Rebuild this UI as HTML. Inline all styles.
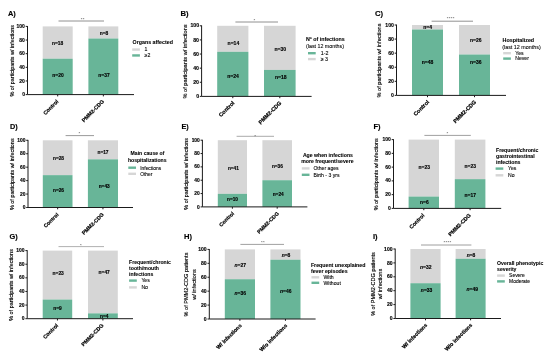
<!DOCTYPE html>
<html lang="en">
<head>
<meta charset="utf-8">
<title>Figure: infections in PMM2-CDG</title>
<style>
html,body{margin:0;padding:0;background:#fff;overflow:hidden;}
svg{display:block;}
text{font-family:"Liberation Sans",Arial,sans-serif;fill:#000;}
.pl,.n,.yt{stroke:#000;stroke-width:0.14;}
.xt{stroke:#000;stroke-width:0.2;}
.pl{font-weight:bold;}
.n{font-weight:bold;text-anchor:middle;}
.it{font-style:italic;}
.yt{font-weight:bold;text-anchor:end;}
.xt{font-weight:bold;text-anchor:end;}
.ytl{stroke:#000;stroke-width:0.15;text-anchor:middle;}
.st{font-size:4.4px;text-anchor:middle;fill:#333;letter-spacing:0.3px;}
.lt{stroke:#000;stroke-width:0.08;}
.li{stroke:#000;stroke-width:0.1;}
.ax{stroke:#1a1a1a;stroke-width:1.0;fill:none;}
.sg{stroke:#858585;stroke-width:0.9;fill:none;}
</style>
</head>
<body>
<svg width="550" height="356" viewBox="0 0 550 356">
<rect width="550" height="356" fill="#fff"/>
<g>
<text x="8.0" y="15.9" font-size="7.43" class="pl">A)</text>
<rect x="42.7" y="26.4" width="30.00" height="32.31" fill="#d6d6d6"/>
<rect x="42.7" y="58.71" width="30.00" height="35.89" fill="#68b598"/>
<text x="58.00" y="76.75" font-size="4.89" class="n"><tspan>n</tspan>=20</text>
<text x="57.60" y="44.75" font-size="4.89" class="n"><tspan>n</tspan>=18</text>
<rect x="88.4" y="26.4" width="29.90" height="12.12" fill="#d6d6d6"/>
<rect x="88.4" y="38.52" width="29.90" height="56.08" fill="#68b598"/>
<text x="104.00" y="77.35" font-size="4.89" class="n"><tspan>n</tspan>=37</text>
<text x="104.00" y="34.75" font-size="4.89" class="n"><tspan>n</tspan>=8</text>
<path d="M27.5 26.0V94.6H134" class="ax"/>
<path d="M25.70 94.60H27.5" class="ax"/>
<text x="24.90" y="96.20" font-size="4.99" class="yt">0</text>
<path d="M25.70 80.96H27.5" class="ax"/>
<text x="24.90" y="82.56" font-size="4.99" class="yt">20</text>
<path d="M25.70 67.32H27.5" class="ax"/>
<text x="24.90" y="68.92" font-size="4.99" class="yt">40</text>
<path d="M25.70 53.68H27.5" class="ax"/>
<text x="24.90" y="55.28" font-size="4.99" class="yt">60</text>
<path d="M25.70 40.04H27.5" class="ax"/>
<text x="24.90" y="41.64" font-size="4.99" class="yt">80</text>
<path d="M25.70 26.40H27.5" class="ax"/>
<text x="24.90" y="28.00" font-size="4.99" class="yt">100</text>
<path d="M57.70 94.6V96.40" class="ax"/>
<text transform="translate(58.80 101.90) rotate(-45)" font-size="5.33" class="xt">Control</text>
<path d="M103.35 94.6V96.40" class="ax"/>
<text transform="translate(104.45 101.90) rotate(-45)" font-size="5.33" class="xt">PMM2-CDG</text>
<text transform="translate(13.50 60.80) rotate(-90)" font-size="5.45" class="ytl">% of participants w/ infections</text>
<path d="M58.5 21.0H104" stroke="#858585" stroke-width="0.9" fill="none"/>
<text x="82.65" y="20.97" class="st">**</text>
<text x="132.6" y="43.80" text-anchor="start" font-weight="bold" font-size="5.3" class="lt">Organs affected</text>
<rect x="132.2" y="48.35" width="7.7" height="2.4" fill="#d6d6d6"/>
<text x="144.6" y="51.40" font-size="5.2" class="li">1</text>
<rect x="132.2" y="54.25" width="7.7" height="2.4" fill="#68b598"/>
<text x="144.6" y="57.30" font-size="5.2" class="li">≥2</text>
</g>
<g>
<text x="180.5" y="15.6" font-size="7.69" class="pl">B)</text>
<rect x="217.2" y="25.8" width="31.20" height="26.01" fill="#d6d6d6"/>
<rect x="217.2" y="51.81" width="31.20" height="44.59" fill="#68b598"/>
<text x="233.00" y="77.75" font-size="5.06" class="n"><tspan>n</tspan>=24</text>
<text x="233.40" y="44.75" font-size="5.06" class="n"><tspan>n</tspan>=14</text>
<rect x="264" y="25.8" width="31.60" height="44.13" fill="#d6d6d6"/>
<rect x="264" y="69.93" width="31.60" height="26.47" fill="#68b598"/>
<text x="280.80" y="78.75" font-size="5.06" class="n"><tspan>n</tspan>=18</text>
<text x="280.30" y="50.75" font-size="5.06" class="n"><tspan>n</tspan>=30</text>
<path d="M201.6 25.400000000000002V96.4H311.6" class="ax"/>
<path d="M199.80 96.40H201.6" class="ax"/>
<text x="199.00" y="98.00" font-size="5.16" class="yt">0</text>
<path d="M199.80 82.28H201.6" class="ax"/>
<text x="199.00" y="83.88" font-size="5.16" class="yt">20</text>
<path d="M199.80 68.16H201.6" class="ax"/>
<text x="199.00" y="69.76" font-size="5.16" class="yt">40</text>
<path d="M199.80 54.04H201.6" class="ax"/>
<text x="199.00" y="55.64" font-size="5.16" class="yt">60</text>
<path d="M199.80 39.92H201.6" class="ax"/>
<text x="199.00" y="41.52" font-size="5.16" class="yt">80</text>
<path d="M199.80 25.80H201.6" class="ax"/>
<text x="199.00" y="27.40" font-size="5.16" class="yt">100</text>
<path d="M232.80 96.4V98.20" class="ax"/>
<text transform="translate(234.90 103.40) rotate(-45)" font-size="5.52" class="xt">Control</text>
<path d="M279.80 96.4V98.20" class="ax"/>
<text transform="translate(281.90 103.40) rotate(-45)" font-size="5.52" class="xt">PMM2-CDG</text>
<text transform="translate(187.00 61.40) rotate(-90)" font-size="5.63" class="ytl">% of participants w/ infections</text>
<path d="M235.4 22H278" stroke="#858585" stroke-width="0.9" fill="none"/>
<text x="254.60" y="21.57" class="st">*</text>
<text x="306" y="41.20" text-anchor="start" font-weight="bold" font-size="5.3" class="lt">Nº of infections</text>
<text x="306" y="47.80" text-anchor="start" font-weight="normal" font-size="5.3" class="lt">(last 12 months)</text>
<rect x="308" y="52.00" width="7.7" height="2.4" fill="#68b598"/>
<text x="320.7" y="55.05" font-size="5.3" class="li">1-2</text>
<rect x="308" y="57.90" width="7.7" height="2.4" fill="#d6d6d6"/>
<text x="320.7" y="60.95" font-size="5.3" class="li">≥ 3</text>
</g>
<g>
<text x="375" y="15.5" font-size="7.67" class="pl">C)</text>
<rect x="412" y="25" width="31.00" height="4.51" fill="#d6d6d6"/>
<rect x="412" y="29.51" width="31.00" height="65.89" fill="#68b598"/>
<text x="427.60" y="64.15" font-size="5.04" class="n"><tspan>n</tspan>=48</text>
<text x="427.70" y="29.05" font-size="5.04" class="n"><tspan>n</tspan>=4</text>
<rect x="459" y="25" width="31.00" height="29.52" fill="#d6d6d6"/>
<rect x="459" y="54.52" width="31.00" height="40.88" fill="#68b598"/>
<text x="475.80" y="64.35" font-size="5.04" class="n"><tspan>n</tspan>=36</text>
<text x="475.80" y="41.75" font-size="5.04" class="n"><tspan>n</tspan>=26</text>
<path d="M396.5 24.6V95.4H506" class="ax"/>
<path d="M394.70 95.40H396.5" class="ax"/>
<text x="393.90" y="97.00" font-size="5.15" class="yt">0</text>
<path d="M394.70 81.32H396.5" class="ax"/>
<text x="393.90" y="82.92" font-size="5.15" class="yt">20</text>
<path d="M394.70 67.24H396.5" class="ax"/>
<text x="393.90" y="68.84" font-size="5.15" class="yt">40</text>
<path d="M394.70 53.16H396.5" class="ax"/>
<text x="393.90" y="54.76" font-size="5.15" class="yt">60</text>
<path d="M394.70 39.08H396.5" class="ax"/>
<text x="393.90" y="40.68" font-size="5.15" class="yt">80</text>
<path d="M394.70 25.00H396.5" class="ax"/>
<text x="393.90" y="26.60" font-size="5.15" class="yt">100</text>
<path d="M427.50 95.4V97.20" class="ax"/>
<text transform="translate(429.60 102.40) rotate(-45)" font-size="5.51" class="xt">Control</text>
<path d="M474.50 95.4V97.20" class="ax"/>
<text transform="translate(476.60 102.40) rotate(-45)" font-size="5.51" class="xt">PMM2-CDG</text>
<text transform="translate(381.10 60.50) rotate(-90)" font-size="5.61" class="ytl">% of participants w/ infections</text>
<path d="M431.6 21.2H473" stroke="#858585" stroke-width="0.9" fill="none"/>
<text x="450.80" y="20.17" class="st">****</text>
<text x="502.5" y="42.00" text-anchor="start" font-weight="bold" font-size="5.38" class="lt">Hospitalized</text>
<text x="502.2" y="48.50" text-anchor="start" font-weight="normal" font-size="5.38" class="lt">(last 12 months)</text>
<rect x="503.2" y="52.00" width="7.7" height="2.4" fill="#d6d6d6"/>
<text x="515.3" y="55.05" font-size="5.1" class="li">Yes</text>
<rect x="503.2" y="57.40" width="7.7" height="2.4" fill="#68b598"/>
<text x="515.3" y="60.45" font-size="5.1" class="li">Never</text>
</g>
<g>
<text x="10" y="128.6" font-size="7.32" class="pl">D)</text>
<rect x="42.8" y="140.3" width="29.70" height="34.84" fill="#d6d6d6"/>
<rect x="42.8" y="175.14" width="29.70" height="32.36" fill="#68b598"/>
<text x="58.50" y="192.15" font-size="4.81" class="n"><tspan>n</tspan>=26</text>
<text x="58.50" y="159.75" font-size="4.81" class="n"><tspan>n</tspan>=28</text>
<rect x="87.9" y="140.3" width="30.10" height="19.04" fill="#d6d6d6"/>
<rect x="87.9" y="159.34" width="30.10" height="48.16" fill="#68b598"/>
<text x="104.20" y="187.75" font-size="4.81" class="n"><tspan>n</tspan>=43</text>
<text x="103.00" y="153.75" font-size="4.81" class="n"><tspan>n</tspan>=17</text>
<path d="M28.0 139.9V207.5H133" class="ax"/>
<path d="M26.20 207.50H28.0" class="ax"/>
<text x="25.40" y="209.10" font-size="4.91" class="yt">0</text>
<path d="M26.20 194.06H28.0" class="ax"/>
<text x="25.40" y="195.66" font-size="4.91" class="yt">20</text>
<path d="M26.20 180.62H28.0" class="ax"/>
<text x="25.40" y="182.22" font-size="4.91" class="yt">40</text>
<path d="M26.20 167.18H28.0" class="ax"/>
<text x="25.40" y="168.78" font-size="4.91" class="yt">60</text>
<path d="M26.20 153.74H28.0" class="ax"/>
<text x="25.40" y="155.34" font-size="4.91" class="yt">80</text>
<path d="M26.20 140.30H28.0" class="ax"/>
<text x="25.40" y="141.90" font-size="4.91" class="yt">100</text>
<path d="M57.65 207.5V209.30" class="ax"/>
<text transform="translate(58.95 214.90) rotate(-45)" font-size="5.26" class="xt">Control</text>
<path d="M102.95 207.5V209.30" class="ax"/>
<text transform="translate(104.25 214.90) rotate(-45)" font-size="5.26" class="xt">PMM2-CDG</text>
<text transform="translate(13.90 174.20) rotate(-90)" font-size="5.45" class="ytl">% of participants w/ infections</text>
<path d="M65.6 135.6H94" stroke="#808080" stroke-width="0.8" fill="none"/>
<text x="79.40" y="134.97" class="st">*</text>
<text x="147.5" y="155.30" text-anchor="middle" font-weight="bold" font-size="5.12" class="lt">Main cause of</text>
<text x="147.2" y="161.50" text-anchor="middle" font-weight="bold" font-size="5.12" class="lt">hospitalizations</text>
<rect x="128.3" y="166.50" width="7.7" height="2.4" fill="#68b598"/>
<text x="140.2" y="169.55" font-size="4.9" class="li">Infections</text>
<rect x="128.3" y="172.60" width="7.7" height="2.4" fill="#d6d6d6"/>
<text x="140.2" y="175.65" font-size="4.9" class="li">Other</text>
</g>
<g>
<text x="181.5" y="129" font-size="7.26" class="pl">E)</text>
<rect x="217.8" y="140.2" width="29.20" height="53.62" fill="#d6d6d6"/>
<rect x="217.8" y="193.82" width="29.20" height="13.08" fill="#68b598"/>
<text x="232.50" y="200.75" font-size="4.78" class="n"><tspan>n</tspan>=10</text>
<text x="233.40" y="169.75" font-size="4.78" class="n"><tspan>n</tspan>=41</text>
<rect x="262.4" y="140.2" width="29.60" height="40.02" fill="#d6d6d6"/>
<rect x="262.4" y="180.22" width="29.60" height="26.68" fill="#68b598"/>
<text x="278.20" y="196.15" font-size="4.78" class="n"><tspan>n</tspan>=24</text>
<text x="277.40" y="167.75" font-size="4.78" class="n"><tspan>n</tspan>=36</text>
<path d="M202.4 139.79999999999998V206.9H307.4" class="ax"/>
<path d="M200.60 206.90H202.4" class="ax"/>
<text x="199.80" y="208.50" font-size="4.88" class="yt">0</text>
<path d="M200.60 193.56H202.4" class="ax"/>
<text x="199.80" y="195.16" font-size="4.88" class="yt">20</text>
<path d="M200.60 180.22H202.4" class="ax"/>
<text x="199.80" y="181.82" font-size="4.88" class="yt">40</text>
<path d="M200.60 166.88H202.4" class="ax"/>
<text x="199.80" y="168.48" font-size="4.88" class="yt">60</text>
<path d="M200.60 153.54H202.4" class="ax"/>
<text x="199.80" y="155.14" font-size="4.88" class="yt">80</text>
<path d="M200.60 140.20H202.4" class="ax"/>
<text x="199.80" y="141.80" font-size="4.88" class="yt">100</text>
<path d="M232.40 206.9V208.70" class="ax"/>
<text transform="translate(234.50 213.90) rotate(-45)" font-size="5.22" class="xt">Control</text>
<path d="M277.20 206.9V208.70" class="ax"/>
<text transform="translate(279.30 213.90) rotate(-45)" font-size="5.22" class="xt">PMM2-CDG</text>
<text transform="translate(188.20 173.85) rotate(-90)" font-size="5.45" class="ytl">% of participants w/ infections</text>
<path d="M236.6 136.3H274" stroke="#707070" stroke-width="0.6" fill="none"/>
<text x="255.30" y="137.87" class="st">*</text>
<text x="327.9" y="156.80" text-anchor="middle" font-weight="bold" font-size="5.15" class="lt">Age when infections</text>
<text x="327.4" y="162.90" text-anchor="middle" font-weight="bold" font-size="5.15" class="lt">more frequent/severe</text>
<rect x="301.8" y="167.20" width="7.7" height="2.4" fill="#d6d6d6"/>
<text x="313.4" y="170.25" font-size="5.1" class="li">Other ages</text>
<rect x="301.8" y="173.60" width="7.7" height="2.4" fill="#68b598"/>
<text x="313.4" y="176.65" font-size="5.1" class="li">Birth - 3 yrs</text>
</g>
<g>
<text x="373.4" y="129" font-size="7.49" class="pl">F)</text>
<rect x="408.6" y="139.6" width="30.40" height="56.97" fill="#d6d6d6"/>
<rect x="408.6" y="196.57" width="30.40" height="11.83" fill="#68b598"/>
<text x="424.40" y="203.75" font-size="4.93" class="n"><tspan>n</tspan>=6</text>
<text x="424.20" y="168.75" font-size="4.93" class="n"><tspan>n</tspan>=23</text>
<rect x="454.8" y="139.6" width="30.60" height="39.56" fill="#d6d6d6"/>
<rect x="454.8" y="179.16" width="30.60" height="29.24" fill="#68b598"/>
<text x="470.20" y="197.35" font-size="4.93" class="n"><tspan>n</tspan>=17</text>
<text x="470.20" y="167.75" font-size="4.93" class="n"><tspan>n</tspan>=23</text>
<path d="M393.5 139.2V208.4H501.2" class="ax"/>
<path d="M391.70 208.40H393.5" class="ax"/>
<text x="390.90" y="210.00" font-size="5.03" class="yt">0</text>
<path d="M391.70 194.64H393.5" class="ax"/>
<text x="390.90" y="196.24" font-size="5.03" class="yt">20</text>
<path d="M391.70 180.88H393.5" class="ax"/>
<text x="390.90" y="182.48" font-size="5.03" class="yt">40</text>
<path d="M391.70 167.12H393.5" class="ax"/>
<text x="390.90" y="168.72" font-size="5.03" class="yt">60</text>
<path d="M391.70 153.36H393.5" class="ax"/>
<text x="390.90" y="154.96" font-size="5.03" class="yt">80</text>
<path d="M391.70 139.60H393.5" class="ax"/>
<text x="390.90" y="141.20" font-size="5.03" class="yt">100</text>
<path d="M423.80 208.4V210.20" class="ax"/>
<text transform="translate(424.90 215.80) rotate(-45)" font-size="5.38" class="xt">Control</text>
<path d="M470.10 208.4V210.20" class="ax"/>
<text transform="translate(471.20 215.80) rotate(-45)" font-size="5.38" class="xt">PMM2-CDG</text>
<text transform="translate(377.80 174.30) rotate(-90)" font-size="5.48" class="ytl">% of participants w/ infections</text>
<path d="M424.4 135.4H470.8" stroke="#606060" stroke-width="0.6" fill="none"/>
<text x="447.60" y="135.17" class="st">*</text>
<text x="496" y="151.90" text-anchor="start" font-weight="bold" font-size="5.2" class="lt">Frequent/chronic</text>
<text x="496" y="158.10" text-anchor="start" font-weight="bold" font-size="5.2" class="lt">gastrointestinal</text>
<text x="496" y="163.90" text-anchor="start" font-weight="bold" font-size="5.2" class="lt">infections</text>
<rect x="495.6" y="167.40" width="7.7" height="2.4" fill="#68b598"/>
<text x="508" y="170.45" font-size="5.1" class="li">Yes</text>
<rect x="495.6" y="174.10" width="7.7" height="2.4" fill="#d6d6d6"/>
<text x="508" y="177.15" font-size="5.1" class="li">No</text>
</g>
<g>
<text x="9.5" y="238.6" font-size="7.42" class="pl">G)</text>
<rect x="42.7" y="250.6" width="29.50" height="48.95" fill="#d6d6d6"/>
<rect x="42.7" y="299.55" width="29.50" height="19.15" fill="#68b598"/>
<text x="57.50" y="309.75" font-size="4.88" class="n"><tspan>n</tspan>=9</text>
<text x="58.20" y="274.75" font-size="4.88" class="n"><tspan>n</tspan>=23</text>
<rect x="88" y="250.6" width="29.80" height="62.76" fill="#d6d6d6"/>
<rect x="88" y="313.36" width="29.80" height="5.34" fill="#68b598"/>
<text x="104.20" y="317.85" font-size="4.88" class="n"><tspan>n</tspan>=4</text>
<text x="104.20" y="274.35" font-size="4.88" class="n"><tspan>n</tspan>=47</text>
<path d="M27.2 250.2V318.7H133" class="ax"/>
<path d="M25.40 318.70H27.2" class="ax"/>
<text x="24.60" y="320.30" font-size="4.98" class="yt">0</text>
<path d="M25.40 305.08H27.2" class="ax"/>
<text x="24.60" y="306.68" font-size="4.98" class="yt">20</text>
<path d="M25.40 291.46H27.2" class="ax"/>
<text x="24.60" y="293.06" font-size="4.98" class="yt">40</text>
<path d="M25.40 277.84H27.2" class="ax"/>
<text x="24.60" y="279.44" font-size="4.98" class="yt">60</text>
<path d="M25.40 264.22H27.2" class="ax"/>
<text x="24.60" y="265.82" font-size="4.98" class="yt">80</text>
<path d="M25.40 250.60H27.2" class="ax"/>
<text x="24.60" y="252.20" font-size="4.98" class="yt">100</text>
<path d="M57.45 318.7V320.50" class="ax"/>
<text transform="translate(58.55 325.90) rotate(-45)" font-size="5.33" class="xt">Control</text>
<path d="M102.90 318.7V320.50" class="ax"/>
<text transform="translate(104.00 325.90) rotate(-45)" font-size="5.33" class="xt">PMM2-CDG</text>
<text transform="translate(12.90 284.95) rotate(-90)" font-size="5.45" class="ytl">% of participants w/ infections</text>
<path d="M58.5 246.6H104" stroke="#a8a8a8" stroke-width="0.9" fill="none"/>
<text x="81.00" y="246.97" class="st">*</text>
<text x="129.1" y="263.60" text-anchor="start" font-weight="bold" font-size="5.14" class="lt">Frequent/chronic</text>
<text x="129.1" y="269.70" text-anchor="start" font-weight="bold" font-size="5.14" class="lt">tooth/mouth</text>
<text x="129.1" y="275.70" text-anchor="start" font-weight="bold" font-size="5.14" class="lt">infections</text>
<rect x="129.1" y="279.40" width="7.7" height="2.4" fill="#68b598"/>
<text x="141.4" y="282.45" font-size="5.1" class="li">Yes</text>
<rect x="129.1" y="286.20" width="7.7" height="2.4" fill="#d6d6d6"/>
<text x="141.4" y="289.25" font-size="5.1" class="li">No</text>
</g>
<g>
<text x="184" y="238.6" font-size="7.58" class="pl">H)</text>
<rect x="224.8" y="249.4" width="30.20" height="29.83" fill="#d6d6d6"/>
<rect x="224.8" y="279.23" width="30.20" height="39.77" fill="#68b598"/>
<text x="240.20" y="294.75" font-size="4.99" class="n"><tspan class="it">n</tspan>=36</text>
<text x="240.20" y="266.75" font-size="4.99" class="n"><tspan class="it">n</tspan>=27</text>
<rect x="270.4" y="249.4" width="30.10" height="10.31" fill="#d6d6d6"/>
<rect x="270.4" y="259.71" width="30.10" height="59.29" fill="#68b598"/>
<text x="285.80" y="293.35" font-size="4.99" class="n"><tspan class="it">n</tspan>=46</text>
<text x="286.00" y="256.75" font-size="4.99" class="n"><tspan class="it">n</tspan>=8</text>
<path d="M209.3 249.0V319H315.6" class="ax"/>
<path d="M207.50 319.00H209.3" class="ax"/>
<text x="206.70" y="320.60" font-size="5.09" class="yt">0</text>
<path d="M207.50 305.08H209.3" class="ax"/>
<text x="206.70" y="306.68" font-size="5.09" class="yt">20</text>
<path d="M207.50 291.16H209.3" class="ax"/>
<text x="206.70" y="292.76" font-size="5.09" class="yt">40</text>
<path d="M207.50 277.24H209.3" class="ax"/>
<text x="206.70" y="278.84" font-size="5.09" class="yt">60</text>
<path d="M207.50 263.32H209.3" class="ax"/>
<text x="206.70" y="264.92" font-size="5.09" class="yt">80</text>
<path d="M207.50 249.40H209.3" class="ax"/>
<text x="206.70" y="251.00" font-size="5.09" class="yt">100</text>
<path d="M239.90 319V320.80" class="ax"/>
<text transform="translate(242.00 326.00) rotate(-45)" font-size="5.34" class="xt">W/ infections</text>
<path d="M285.45 319V320.80" class="ax"/>
<text transform="translate(287.55 326.00) rotate(-45)" font-size="5.34" class="xt">W/o infections</text>
<text transform="translate(188.20 284.50) rotate(-90)" font-size="5.55" class="ytl">% of PMM2-CDG patients</text>
<text transform="translate(195.50 284.50) rotate(-90)" font-size="5.55" class="ytl">w/ infections</text>
<path d="M240.4 244.4H284" stroke="#606060" stroke-width="0.6" fill="none"/>
<text x="263.00" y="243.97" class="st">**</text>
<text x="310.9" y="266.60" text-anchor="start" font-weight="bold" font-size="5.25" class="lt">Frequent unexplained</text>
<text x="310.9" y="272.90" text-anchor="start" font-weight="bold" font-size="5.25" class="lt">fever episodes</text>
<rect x="311.5" y="276.10" width="7.7" height="2.4" fill="#d6d6d6"/>
<text x="323.4" y="279.15" font-size="5.15" class="li">With</text>
<rect x="311.5" y="281.60" width="7.7" height="2.4" fill="#68b598"/>
<text x="323.4" y="284.65" font-size="5.15" class="li">Without</text>
</g>
<g>
<text x="373" y="238.6" font-size="7.57" class="pl">I)</text>
<rect x="410.4" y="249" width="30.20" height="34.22" fill="#d6d6d6"/>
<rect x="410.4" y="283.22" width="30.20" height="35.28" fill="#68b598"/>
<text x="426.60" y="292.35" font-size="4.98" class="n"><tspan class="it">n</tspan>=33</text>
<text x="425.80" y="268.75" font-size="4.98" class="n"><tspan class="it">n</tspan>=32</text>
<rect x="455.6" y="249" width="30.00" height="9.75" fill="#d6d6d6"/>
<rect x="455.6" y="258.75" width="30.00" height="59.75" fill="#68b598"/>
<text x="472.20" y="291.15" font-size="4.98" class="n"><tspan class="it">n</tspan>=49</text>
<text x="471.00" y="256.75" font-size="4.98" class="n"><tspan class="it">n</tspan>=8</text>
<path d="M395.2 248.6V318.5H501" class="ax"/>
<path d="M393.40 318.50H395.2" class="ax"/>
<text x="392.60" y="320.10" font-size="5.08" class="yt">0</text>
<path d="M393.40 304.60H395.2" class="ax"/>
<text x="392.60" y="306.20" font-size="5.08" class="yt">20</text>
<path d="M393.40 290.70H395.2" class="ax"/>
<text x="392.60" y="292.30" font-size="5.08" class="yt">40</text>
<path d="M393.40 276.80H395.2" class="ax"/>
<text x="392.60" y="278.40" font-size="5.08" class="yt">60</text>
<path d="M393.40 262.90H395.2" class="ax"/>
<text x="392.60" y="264.50" font-size="5.08" class="yt">80</text>
<path d="M393.40 249.00H395.2" class="ax"/>
<text x="392.60" y="250.60" font-size="5.08" class="yt">100</text>
<path d="M425.50 318.5V320.30" class="ax"/>
<text transform="translate(427.60 325.50) rotate(-45)" font-size="5.33" class="xt">W/ infections</text>
<path d="M470.60 318.5V320.30" class="ax"/>
<text transform="translate(472.70 325.50) rotate(-45)" font-size="5.33" class="xt">W/o infections</text>
<text transform="translate(374.50 284.05) rotate(-90)" font-size="5.54" class="ytl">% of PMM2-CDG patients</text>
<text transform="translate(381.80 284.05) rotate(-90)" font-size="5.54" class="ytl">w/ infections</text>
<path d="M421 245.0H471.4" stroke="#858585" stroke-width="0.8" fill="none"/>
<text x="447.60" y="244.17" class="st">****</text>
<text x="497.1" y="265.20" text-anchor="start" font-weight="bold" font-size="5.14" class="lt">Overall phenotypic</text>
<text x="497.1" y="271.20" text-anchor="start" font-weight="bold" font-size="5.14" class="lt">severity</text>
<rect x="497.1" y="274.40" width="7.7" height="2.4" fill="#d6d6d6"/>
<text x="509.1" y="277.45" font-size="4.95" class="li">Severe</text>
<rect x="497.1" y="280.20" width="7.7" height="2.4" fill="#68b598"/>
<text x="509.1" y="283.25" font-size="4.95" class="li">Moderate</text>
</g>
</svg>
</body>
</html>
